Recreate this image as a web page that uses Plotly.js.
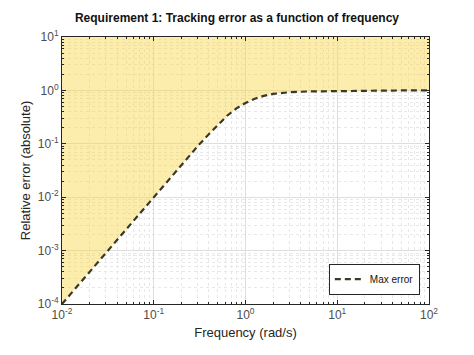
<!DOCTYPE html>
<html><head><meta charset="utf-8">
<script src="https://cdn.plot.ly/plotly-3.0.1.min.js"></script>
<style>html,body{margin:0;padding:0;background:#fff}</style>
</head><body>
<div id="chart" style="width:474px;height:355px"></div>
<script>
const freq = [0.01, 0.02, 0.05, 0.1, 0.2, 0.251, 0.316, 0.398, 0.5, 0.63, 0.79, 1, 1.26, 1.58, 2, 2.5, 3.16, 5, 10, 20, 50, 100];
const maxError = [1e-4, 4.0e-4, 2.5e-3, 0.0099, 0.0407, 0.0638, 0.099, 0.151, 0.224, 0.335, 0.457, 0.582, 0.696, 0.79, 0.861, 0.907, 0.931, 0.957, 0.975, 0.991, 0.998, 1.0];
const xTickVals = [0.01, 0.1, 1, 10, 100];
const xTickText = ['10<sup>-2</sup>', '10<sup>-1</sup>', '10<sup>0</sup>', '10<sup>1</sup>', '10<sup>2</sup>'];
const yTickVals = [1e-4, 1e-3, 1e-2, 1e-1, 1, 10];
const yTickText = ['10<sup>-4</sup>', '10<sup>-3</sup>', '10<sup>-2</sup>', '10<sup>-1</sup>', '10<sup>0</sup>', '10<sup>1</sup>'];
const yTop = 10;
const titleText = 'Requirement 1: Tracking error as a function of frequency';
const xTitle = 'Frequency (rad/s)';
const yTitle = 'Relative error (absolute)';
const legendName = 'Max error';

const traces = [
  {x: freq, y: maxError, mode: 'lines', line: {width: 0, color: 'rgba(0,0,0,0)'}, showlegend: false, hoverinfo: 'skip'},
  {x: freq, y: freq.map(() => yTop), mode: 'lines', fill: 'tonexty', fillcolor: 'rgba(250,215,70,0.45)', line: {width: 0, color: 'rgba(0,0,0,0)'}, showlegend: false, hoverinfo: 'skip'},
  {x: freq, y: maxError, mode: 'lines', name: legendName, line: {color: '#3a3828', width: 2.2, dash: '6px,4px'}}
];

const axisCommon = {
  type: 'log',
  showline: true, linecolor: '#262626', linewidth: 1, mirror: 'ticks',
  ticks: 'inside', ticklen: 4, tickcolor: '#262626',
  showgrid: true, gridcolor: '#dedede', gridwidth: 1,
  tickfont: {family: 'Liberation Sans, Arial', size: 12, color: '#4d4d4d'},
  zeroline: false,
  minor: {dtick: 'D1', ticks: 'inside', ticklen: 2, tickcolor: '#262626', showgrid: true, gridcolor: '#e8e8e8', griddash: 'dot', gridwidth: 1}
};

const layout = {
  width: 474, height: 355,
  margin: {l: 62, r: 45, t: 37, b: 51},
  paper_bgcolor: '#fff', plot_bgcolor: '#fff',
  title: {text: '<b>' + titleText + '</b>', font: {family: 'Liberation Sans, Arial', size: 12, color: '#111'}, x: 0.5, xanchor: 'center', y: 0.95, yanchor: 'middle'},
  xaxis: Object.assign({}, axisCommon, {range: [-2, 2], tickmode: 'array', tickvals: xTickVals, ticktext: xTickText,
    title: {text: xTitle, font: {family: 'Liberation Sans, Arial', size: 13, color: '#262626'}, standoff: 6}}),
  yaxis: Object.assign({}, axisCommon, {range: [-4, 1], tickmode: 'array', tickvals: yTickVals, ticktext: yTickText,
    title: {text: yTitle, font: {family: 'Liberation Sans, Arial', size: 13, color: '#262626'}, standoff: 4}}),
  showlegend: true,
  legend: {x: 0.975, y: 0.035, xanchor: 'right', yanchor: 'bottom', bgcolor: '#fff', bordercolor: '#262626', borderwidth: 1,
           font: {family: 'Liberation Sans, Arial', size: 10, color: '#111'}, itemwidth: 30, tracegroupgap: 0}
};

Plotly.newPlot('chart', traces, layout, {staticPlot: true, displayModeBar: false});
</script>
</body></html>
